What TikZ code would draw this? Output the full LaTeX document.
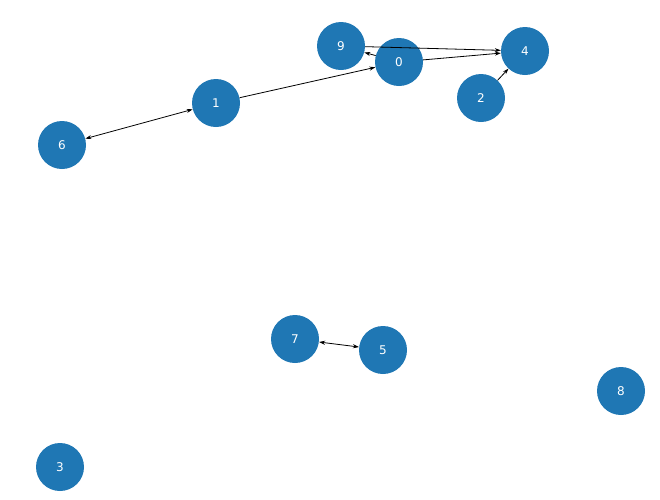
\documentclass[tikz,border=0pt]{standalone}
\usepackage{fontspec}
\setmainfont{DejaVu Sans}
\usetikzlibrary{arrows.meta}
\begin{document}
\begin{tikzpicture}[x=1pt,y=-1pt,
  nd/.style={circle,fill={rgb,255:red,31;green,119;blue,180},minimum size=48pt,inner sep=0pt,text=white,font=\fontsize{12}{12}\selectfont},
  ed/.style={-{Stealth[length=6pt,width=4pt]},line width=0.8pt},
  bd/.style={{Stealth[length=6pt,width=4pt]}-{Stealth[length=6pt,width=4pt]},line width=0.8pt}]
\useasboundingbox (0,0) rectangle (660,499);
\node[nd] (n9) at (341,46) {9};
\node[nd] (n0) at (399,62) {0};
\node[nd] (n4) at (525,51) {4};
\node[nd] (n2) at (481,98) {2};
\node[nd] (n1) at (216,103) {1};
\node[nd] (n6) at (62,145) {6};
\node[nd] (n7) at (295,339) {7};
\node[nd] (n5) at (383,350) {5};
\node[nd] (n8) at (621,391) {8};
\node[nd] (n3) at (60,467) {3};
\draw[ed] (n9) -- (n4);
\draw[ed] (n0) -- (n4);
\draw[ed] (n0) -- (n9);
\draw[ed] (n1) -- (n0);
\draw[ed] (n2) -- (n4);
\draw[bd] (n1) -- (n6);
\draw[bd] (n7) -- (n5);
\end{tikzpicture}
\end{document}
